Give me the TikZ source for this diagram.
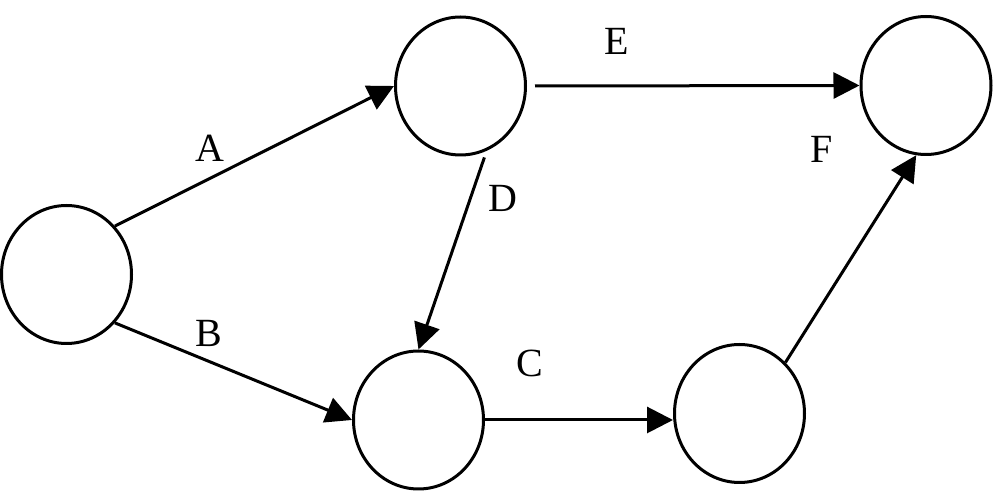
\documentclass[tikz,border=0pt]{standalone}
\usepackage{fontspec}
\setmainfont{Liberation Serif}
\usetikzlibrary{shapes.geometric,arrows.meta}
\tikzset{
  event/.style={ellipse,draw,line width=1.5pt,minimum width=65pt,minimum height=69pt,inner sep=0pt},
  act/.style={-{Triangle[length=13pt,width=13pt]},line width=1.5pt},
  lbl/.style={inner sep=0pt,font=\fontsize{20}{24}\selectfont}
}
\begin{document}
\begin{tikzpicture}[x=0.5pt,y=-0.5pt]
\useasboundingbox (0,0) rectangle (993,491);
%
\node[event] (n1) at (66.5,274.5) {};
\node[event] (n2) at (460.5,86) {};
\node[event] (n3) at (926,85.5) {};
\node[event] (n4) at (418.5,420) {};
\node[event] (n5) at (739.5,413.5) {};
%
\draw[act] (n1.45) -- (n2.west);
\draw[act] (n1.-45) -- (n4.west);
\draw[act,shorten <=3.5pt] (n2.-68) -- (n4.north);
\draw[act,shorten <=4pt] (n2.east) -- (n3.west);
\draw[act] (n4.east) -- (n4.east -| n5.west);
\draw[act] (n5.48) -- (n3.-98);
%
\node[lbl] (la) at (210,148) {A};
\node[lbl] (lb) at (209,333) {B};
\node[lbl] (lc) at (530,363) {C};
\node[lbl] (ld) at (503,198) {D};
\node[lbl] (le) at (616.5,41) {E};
\node[lbl] (lf) at (822,149) {F};
\end{tikzpicture}
\end{document}
